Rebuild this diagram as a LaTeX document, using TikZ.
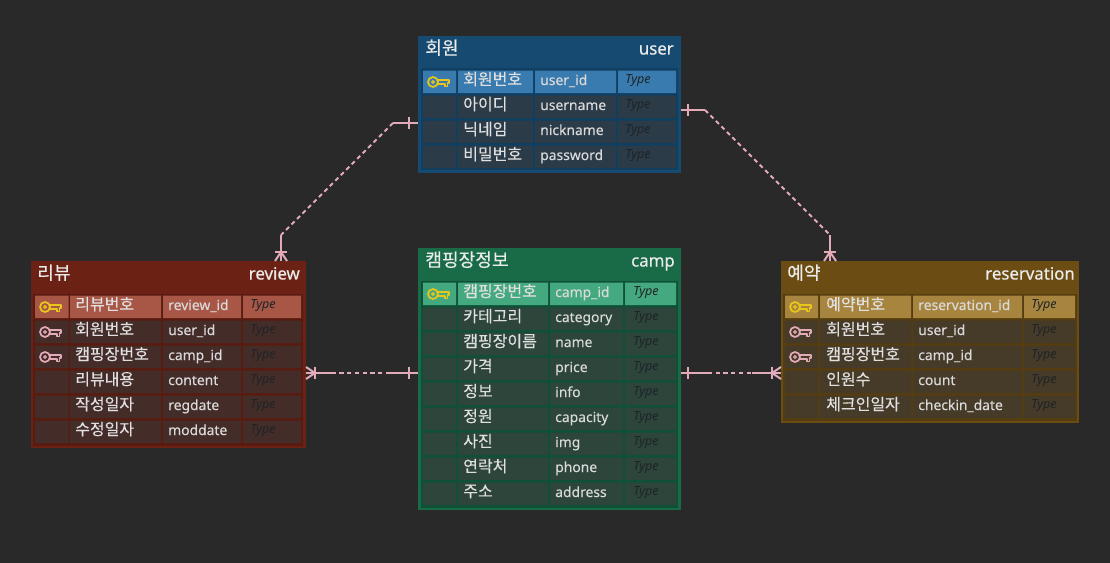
\documentclass[tikz,border=0pt]{standalone}
\usepackage{fontspec}
\setmainfont{Noto Sans}
\newfontfamily\krfont[FakeBold=0.2]{Noto Sans CJK KR}
\newfontfamily\latinfont[FakeBold=0.2]{Noto Sans}
\newfontfamily\headfont[FakeBold=0.5]{Noto Sans}
\definecolor{canvas}{HTML}{292929}
\definecolor{relpink}{HTML}{E3AAB8}
\definecolor{pkgold}{HTML}{E9C61C}
\definecolor{typeink}{HTML}{1E2427}
\definecolor{userHead}{HTML}{164A70}
\definecolor{userBand}{HTML}{0F3F62}
\definecolor{userCell}{HTML}{2B3B48}
\definecolor{userKey}{HTML}{397BAF}
\definecolor{reviewHead}{HTML}{6B2113}
\definecolor{reviewBand}{HTML}{591B10}
\definecolor{reviewCell}{HTML}{442C29}
\definecolor{reviewKey}{HTML}{A85646}
\definecolor{campHead}{HTML}{196B48}
\definecolor{campBand}{HTML}{0F5137}
\definecolor{campCell}{HTML}{2D453B}
\definecolor{campKey}{HTML}{45A97F}
\definecolor{resvHead}{HTML}{6B4D14}
\definecolor{resvBand}{HTML}{553D10}
\definecolor{resvCell}{HTML}{463A29}
\definecolor{resvKey}{HTML}{A8853F}
\tikzset{
  tableBox/.style = {inner sep = 0pt, outer sep = 0pt},
  titleKo/.style = {anchor = base west, inner sep = 0pt, text = white!92!black, font = \krfont\fontsize{13.6pt}{15pt}\selectfont},
  titleEn/.style = {anchor = base east, inner sep = 0pt, text = white!92!black, font = \headfont\fontsize{12.6pt}{15pt}\selectfont},
  nameText/.style = {anchor = base west, inner sep = 0pt, text = white!88!black, font = \krfont\fontsize{12pt}{14pt}\selectfont},
  fieldText/.style = {anchor = base west, inner sep = 0pt, text = white!85!black, font = \latinfont\fontsize{10.4pt}{13pt}\selectfont},
  typeText/.style = {anchor = base west, inner sep = 0pt, text = typeink, font = \fontsize{9.4pt}{13pt}\selectfont\itshape},
  relSolid/.style = {relpink, line width = 1.5pt},
  relDash/.style = {relpink, line width = 1.5pt, dash pattern = on 3.2pt off 2.6pt},
  keyicon/.pic = {
    \draw[line width = 1.3pt] (0, 0) circle (5);
    \draw[line width = 0.8pt] (0, 0) circle (1.4);
    \draw[line width = 1.3pt, line join = round] (4.6, -2.2) -- (16, -2.2) -- (16, 1) -- (14.5, 1) -- (14.5, 4.5) -- (12, 4.5) -- (12, 2) -- (4.6, 2);
  },
}
\begin{document}
\begin{tikzpicture}[x = 0.75pt, y = -0.75pt]
\useasboundingbox[fill = canvas] (0, 0) rectangle (1110, 563);
% Table boxes
\node[tableBox, minimum width = 197.25pt, minimum height = 102.75pt, fill = userHead] (user) at (549.5, 104.5) {};
\node[tableBox, minimum width = 206.25pt, minimum height = 140.25pt, fill = reviewHead] (review) at (168.5, 354.5) {};
\node[tableBox, minimum width = 197.25pt, minimum height = 196.5pt, fill = campHead] (camp) at (549.5, 379) {};
\node[tableBox, minimum width = 223.5pt, minimum height = 121.5pt, fill = resvHead] (reservation) at (930, 342) {};
% Row bands
\fill[userBand] (421, 68.5) rectangle (678, 170.5);
\fill[reviewBand] (33, 293.5) rectangle (303, 445.5);
\fill[campBand] (421, 280.5) rectangle (678, 507.5);
\fill[resvBand] (783, 293.5) rectangle (1077, 420.5);
% Titles
\node[titleKo] (userKo) at (425, 54.5) {회원};
\node[titleEn] (userEn) at (674, 54.5) {user};
\node[titleKo] (reviewKo) at (37, 279.5) {리뷰};
\node[titleEn] (reviewEn) at (300, 279.5) {review};
\node[titleKo] (campKo) at (425, 266.5) {캠핑장정보};
\node[titleEn] (campEn) at (675, 266.5) {camp};
\node[titleKo] (reservationKo) at (787, 279.5) {예약};
\node[titleEn] (reservationEn) at (1075, 279.5) {reservation};
% User cells
\fill[userKey] (423, 70.7) rectangle (456, 93.2) (458, 70.7) rectangle (533, 93.2) (535, 70.7) rectangle (616, 93.2) (618, 70.7) rectangle (676, 93.2);
\fill[userCell] (423, 95.7) rectangle (456, 118.2) (458, 95.7) rectangle (533, 118.2) (535, 95.7) rectangle (616, 118.2) (618, 95.7) rectangle (676, 118.2);
\fill[userCell] (423, 120.7) rectangle (456, 143.2) (458, 120.7) rectangle (533, 143.2) (535, 120.7) rectangle (616, 143.2) (618, 120.7) rectangle (676, 143.2);
\fill[userCell] (423, 145.7) rectangle (456, 168.2) (458, 145.7) rectangle (533, 168.2) (535, 145.7) rectangle (616, 168.2) (618, 145.7) rectangle (676, 168.2);
% User text
\node[nameText] (user1) at (463, 85) {회원번호};
\node[nameText] (user2) at (463, 110) {아이디};
\node[nameText] (user3) at (463, 135) {닉네임};
\node[nameText] (user4) at (463, 160) {비밀번호};
\node[fieldText] (userId) at (540, 85) {user\_id};
\node[fieldText] (userName) at (540, 110) {username};
\node[fieldText] (userNick) at (540, 135) {nickname};
\node[fieldText] (userPass) at (540, 160) {password};
\node[typeText] (userT1) at (625, 83.5) {Type};
\node[typeText] (userT2) at (625, 108.5) {Type};
\node[typeText] (userT3) at (625, 133.5) {Type};
\node[typeText] (userT4) at (625, 158.5) {Type};
% Review cells
\fill[reviewKey] (35, 295.7) rectangle (68.5, 318.2) (70, 295.7) rectangle (161, 318.2) (163, 295.7) rectangle (241, 318.2) (243, 295.7) rectangle (301, 318.2);
\fill[reviewCell] (35, 320.7) rectangle (68.5, 343.2) (70, 320.7) rectangle (161, 343.2) (163, 320.7) rectangle (241, 343.2) (243, 320.7) rectangle (301, 343.2);
\fill[reviewCell] (35, 345.7) rectangle (68.5, 368.2) (70, 345.7) rectangle (161, 368.2) (163, 345.7) rectangle (241, 368.2) (243, 345.7) rectangle (301, 368.2);
\fill[reviewCell] (35, 370.7) rectangle (68.5, 393.2) (70, 370.7) rectangle (161, 393.2) (163, 370.7) rectangle (241, 393.2) (243, 370.7) rectangle (301, 393.2);
\fill[reviewCell] (35, 395.7) rectangle (68.5, 418.2) (70, 395.7) rectangle (161, 418.2) (163, 395.7) rectangle (241, 418.2) (243, 395.7) rectangle (301, 418.2);
\fill[reviewCell] (35, 420.7) rectangle (68.5, 443.2) (70, 420.7) rectangle (161, 443.2) (163, 420.7) rectangle (241, 443.2) (243, 420.7) rectangle (301, 443.2);
% Review text
\node[nameText] (review1) at (75, 310) {리뷰번호};
\node[nameText] (review2) at (75, 335) {회원번호};
\node[nameText] (review3) at (75, 360) {캠핑장번호};
\node[nameText] (review4) at (75, 385) {리뷰내용};
\node[nameText] (review5) at (75, 410) {작성일자};
\node[nameText] (review6) at (75, 435) {수정일자};
\node[fieldText] (reviewId) at (168, 310) {review\_id};
\node[fieldText] (reviewUser) at (168, 335) {user\_id};
\node[fieldText] (reviewCamp) at (168, 360) {camp\_id};
\node[fieldText] (reviewContent) at (168, 385) {content};
\node[fieldText] (reviewReg) at (168, 410) {regdate};
\node[fieldText] (reviewMod) at (168, 435) {moddate};
\node[typeText] (reviewT1) at (250, 308.5) {Type};
\node[typeText] (reviewT2) at (250, 333.5) {Type};
\node[typeText] (reviewT3) at (250, 358.5) {Type};
\node[typeText] (reviewT4) at (250, 383.5) {Type};
\node[typeText] (reviewT5) at (250, 408.5) {Type};
\node[typeText] (reviewT6) at (250, 433.5) {Type};
% Camp cells
\fill[campKey] (423, 282.7) rectangle (456, 305.2) (458, 282.7) rectangle (548, 305.2) (550, 282.7) rectangle (623, 305.2) (625, 282.7) rectangle (676, 305.2);
\fill[campCell] (423, 307.7) rectangle (456, 330.2) (458, 307.7) rectangle (548, 330.2) (550, 307.7) rectangle (623, 330.2) (625, 307.7) rectangle (676, 330.2);
\fill[campCell] (423, 332.7) rectangle (456, 355.2) (458, 332.7) rectangle (548, 355.2) (550, 332.7) rectangle (623, 355.2) (625, 332.7) rectangle (676, 355.2);
\fill[campCell] (423, 357.7) rectangle (456, 380.2) (458, 357.7) rectangle (548, 380.2) (550, 357.7) rectangle (623, 380.2) (625, 357.7) rectangle (676, 380.2);
\fill[campCell] (423, 382.7) rectangle (456, 405.2) (458, 382.7) rectangle (548, 405.2) (550, 382.7) rectangle (623, 405.2) (625, 382.7) rectangle (676, 405.2);
\fill[campCell] (423, 407.7) rectangle (456, 430.2) (458, 407.7) rectangle (548, 430.2) (550, 407.7) rectangle (623, 430.2) (625, 407.7) rectangle (676, 430.2);
\fill[campCell] (423, 432.7) rectangle (456, 455.2) (458, 432.7) rectangle (548, 455.2) (550, 432.7) rectangle (623, 455.2) (625, 432.7) rectangle (676, 455.2);
\fill[campCell] (423, 457.7) rectangle (456, 480.2) (458, 457.7) rectangle (548, 480.2) (550, 457.7) rectangle (623, 480.2) (625, 457.7) rectangle (676, 480.2);
\fill[campCell] (423, 482.7) rectangle (456, 505.2) (458, 482.7) rectangle (548, 505.2) (550, 482.7) rectangle (623, 505.2) (625, 482.7) rectangle (676, 505.2);
% Camp text
\node[nameText] (camp1) at (463, 297) {캠핑장번호};
\node[nameText] (camp2) at (463, 322) {카테고리};
\node[nameText] (camp3) at (463, 347) {캠핑장이름};
\node[nameText] (camp4) at (463, 372) {가격};
\node[nameText] (camp5) at (463, 397) {정보};
\node[nameText] (camp6) at (463, 422) {정원};
\node[nameText] (camp7) at (463, 447) {사진};
\node[nameText] (camp8) at (463, 472) {연락처};
\node[nameText] (camp9) at (463, 497) {주소};
\node[fieldText] (campId) at (555, 297) {camp\_id};
\node[fieldText] (campCat) at (555, 322) {category};
\node[fieldText] (campName) at (555, 347) {name};
\node[fieldText] (campPrice) at (555, 372) {price};
\node[fieldText] (campInfo) at (555, 397) {info};
\node[fieldText] (campCap) at (555, 422) {capacity};
\node[fieldText] (campImg) at (555, 447) {img};
\node[fieldText] (campPhone) at (555, 472) {phone};
\node[fieldText] (campAddr) at (555, 497) {address};
\node[typeText] (campT1) at (633, 295.5) {Type};
\node[typeText] (campT2) at (633, 320.5) {Type};
\node[typeText] (campT3) at (633, 345.5) {Type};
\node[typeText] (campT4) at (633, 370.5) {Type};
\node[typeText] (campT5) at (633, 395.5) {Type};
\node[typeText] (campT6) at (633, 420.5) {Type};
\node[typeText] (campT7) at (633, 445.5) {Type};
\node[typeText] (campT8) at (633, 470.5) {Type};
\node[typeText] (campT9) at (633, 495.5) {Type};
% Reservation cells
\fill[resvKey] (785, 295.7) rectangle (818, 318.2) (820, 295.7) rectangle (911, 318.2) (913, 295.7) rectangle (1022, 318.2) (1024, 295.7) rectangle (1075, 318.2);
\fill[resvCell] (785, 320.7) rectangle (818, 343.2) (820, 320.7) rectangle (911, 343.2) (913, 320.7) rectangle (1022, 343.2) (1024, 320.7) rectangle (1075, 343.2);
\fill[resvCell] (785, 345.7) rectangle (818, 368.2) (820, 345.7) rectangle (911, 368.2) (913, 345.7) rectangle (1022, 368.2) (1024, 345.7) rectangle (1075, 368.2);
\fill[resvCell] (785, 370.7) rectangle (818, 393.2) (820, 370.7) rectangle (911, 393.2) (913, 370.7) rectangle (1022, 393.2) (1024, 370.7) rectangle (1075, 393.2);
\fill[resvCell] (785, 395.7) rectangle (818, 418.2) (820, 395.7) rectangle (911, 418.2) (913, 395.7) rectangle (1022, 418.2) (1024, 395.7) rectangle (1075, 418.2);
% Reservation text
\node[nameText] (reservation1) at (826, 310) {예약번호};
\node[nameText] (reservation2) at (826, 335) {회원번호};
\node[nameText] (reservation3) at (826, 360) {캠핑장번호};
\node[nameText] (reservation4) at (826, 385) {인원수};
\node[nameText] (reservation5) at (826, 410) {체크인일자};
\node[fieldText] (reservationId) at (918, 310) {reservation\_id};
\node[fieldText] (reservationUser) at (918, 335) {user\_id};
\node[fieldText] (reservationCamp) at (918, 360) {camp\_id};
\node[fieldText] (reservationCount) at (918, 385) {count};
\node[fieldText] (reservationDate) at (918, 410) {checkin\_date};
\node[typeText] (reservationT1) at (1031, 308.5) {Type};
\node[typeText] (reservationT2) at (1031, 333.5) {Type};
\node[typeText] (reservationT3) at (1031, 358.5) {Type};
\node[typeText] (reservationT4) at (1031, 383.5) {Type};
\node[typeText] (reservationT5) at (1031, 408.5) {Type};
% Key icons
\pic[pkgold] at (433, 82) {keyicon};
\pic[pkgold] at (45, 307) {keyicon};
\pic[relpink] at (45, 332) {keyicon};
\pic[relpink] at (45, 357) {keyicon};
\pic[pkgold] at (433, 294) {keyicon};
\pic[pkgold] at (795, 307) {keyicon};
\pic[relpink] at (795, 332) {keyicon};
\pic[relpink] at (795, 357) {keyicon};
% Bends
\coordinate (userLeftBend) at (393, 123);
\coordinate (reviewBend) at (281, 235);
\coordinate (userRightBend) at (705, 110);
\coordinate (reservationBend) at (830, 235);
% User to review
\draw[relSolid] (user.west |- userLeftBend) -- (userLeftBend);
\draw[relDash] (userLeftBend) -- (reviewBend);
\draw[relSolid] (reviewBend) -- (review.north -| reviewBend);
\draw[relSolid] (409, 117) -- (409, 129);
\draw[relSolid] (275, 252) -- (287, 252);
\draw[relSolid] (281, 252) -- (275, 261);
\draw[relSolid] (281, 252) -- (287, 261);
% User to reservation
\draw[relSolid] (user.east |- userRightBend) -- (userRightBend);
\draw[relDash] (userRightBend) -- (reservationBend);
\draw[relSolid] (reservationBend) -- (reservation.north -| reservationBend);
\draw[relSolid] (688, 104) -- (688, 116);
\draw[relSolid] (824, 252) -- (836, 252);
\draw[relSolid] (830, 252) -- (824, 261);
\draw[relSolid] (830, 252) -- (836, 261);
% Camp to review
\coordinate (campLeftEnd) at (390, 373);
\coordinate (reviewRightEnd) at (332, 373);
\draw[relSolid] (camp.west |- campLeftEnd) -- (campLeftEnd);
\draw[relDash] (campLeftEnd) -- (reviewRightEnd);
\draw[relSolid] (reviewRightEnd) -- (review.east |- reviewRightEnd);
\draw[relSolid] (409, 367) -- (409, 379);
\draw[relSolid] (315, 367) -- (315, 379);
\draw[relSolid] (315, 373) -- (306, 367);
\draw[relSolid] (315, 373) -- (306, 379);
% Camp to reservation
\coordinate (campRightEnd) at (708, 373);
\coordinate (reservationLeftEnd) at (752, 373);
\draw[relSolid] (camp.east |- campRightEnd) -- (campRightEnd);
\draw[relDash] (campRightEnd) -- (reservationLeftEnd);
\draw[relSolid] (reservationLeftEnd) -- (reservation.west |- reservationLeftEnd);
\draw[relSolid] (688, 367) -- (688, 379);
\draw[relSolid] (772, 367) -- (772, 379);
\draw[relSolid] (772, 373) -- (781, 367);
\draw[relSolid] (772, 373) -- (781, 379);
\end{tikzpicture}
\end{document}
